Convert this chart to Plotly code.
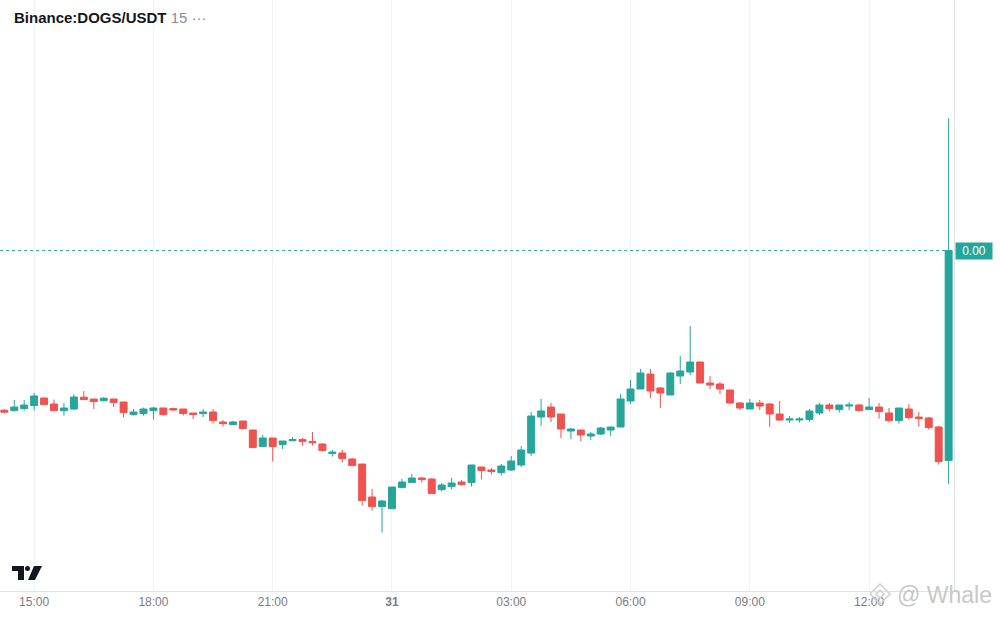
import pandas as pd
import numpy as np
import plotly.graph_objects as go

# 15 minute candles, Binance DOGS/USDT, prices in micro-USDT (1e-6)
start_time = "2024-12-30 14:15"
opens = [399.9, 399.7, 400.7, 402.2, 406.0, 403.0, 399.7, 400.5, 406.4, 405.5,
         404.7, 405.5, 404.0, 397.7, 398.2, 399.7, 401.0, 400.7, 400.5, 398.5,
         398.2, 399.0, 394.0, 392.7, 394.5, 390.0, 381.7, 386.0, 382.7, 384.7,
         385.2, 384.2, 383.0, 378.2, 378.5, 375.5, 373.0, 356.5, 351.7, 350.7,
         361.2, 363.7, 366.0, 365.5, 360.2, 361.7, 364.0, 363.7, 371.5, 370.0,
         368.7, 370.0, 372.5, 378.5, 396.5, 401.5, 398.0, 389.5, 390.0, 387.0,
         388.0, 390.0, 391.5, 404.5, 410.5, 418.0, 411.0, 407.5, 417.0, 419.0,
         424.0, 413.5, 413.0, 410.0, 403.5, 400.5, 403.5, 403.0, 398.0, 395.0,
         395.0, 395.2, 398.5, 402.5, 400.2, 402.0, 402.5, 400.2, 401.5, 398.5,
         394.7, 400.5, 396.5, 396.0, 391.5, 374.7]
highs = [400.5, 405.0, 405.0, 408.5, 406.0, 405.2, 403.5, 407.9, 409.5, 405.5,
         406.4, 405.5, 404.0, 400.5, 401.2, 401.5, 401.0, 401.2, 400.5, 398.5,
         400.5, 400.5, 395.0, 394.5, 394.5, 390.0, 387.5, 386.0, 384.5, 386.5,
         386.0, 389.0, 383.5, 380.0, 380.0, 376.0, 373.0, 360.5, 355.0, 361.5,
         365.5, 368.0, 366.5, 366.0, 363.5, 366.0, 365.0, 372.5, 371.5, 371.0,
         373.0, 377.0, 382.0, 399.0, 405.5, 403.5, 398.0, 391.0, 390.0, 389.0,
         391.5, 391.5, 408.0, 415.0, 420.5, 420.5, 411.5, 419.0, 427.0, 442.0,
         424.0, 417.0, 414.0, 410.0, 404.0, 405.5, 405.0, 403.5, 404.5, 397.0,
         396.5, 400.5, 403.5, 403.5, 402.5, 404.0, 403.0, 406.0, 403.5, 401.0,
         401.0, 403.0, 399.0, 396.5, 392.0, 545.9]
lows = [398.2, 399.2, 399.7, 399.7, 402.7, 399.7, 397.2, 400.0, 405.2, 400.5,
        404.2, 401.5, 396.2, 397.2, 397.2, 395.2, 397.2, 399.7, 397.2, 395.5,
        396.5, 393.2, 391.7, 392.7, 390.2, 381.2, 381.7, 374.2, 380.5, 384.2,
        382.2, 382.2, 379.2, 376.7, 373.7, 372.2, 352.2, 349.7, 338.7, 350.7,
        361.2, 363.7, 363.7, 358.2, 359.2, 360.2, 362.2, 361.7, 365.2, 367.7,
        367.2, 369.5, 371.5, 377.0, 392.0, 394.0, 386.0, 385.5, 384.5, 385.0,
        387.5, 387.0, 391.5, 403.0, 410.5, 406.0, 401.0, 407.5, 413.0, 417.5,
        413.5, 410.5, 408.0, 403.0, 400.0, 400.5, 400.0, 391.5, 394.5, 393.5,
        393.7, 394.2, 397.5, 399.2, 398.7, 400.0, 399.2, 400.2, 395.7, 393.7,
        393.2, 395.2, 391.7, 390.2, 372.7, 362.9]
closes = [398.9, 401.5, 402.5, 407.0, 402.7, 399.7, 401.0, 406.5, 405.2, 404.2,
          405.9, 403.7, 398.7, 399.0, 400.5, 401.0, 397.7, 400.0, 398.2, 397.7,
          399.0, 394.7, 393.2, 394.0, 390.7, 381.2, 386.0, 381.7, 384.5, 385.2,
          384.2, 383.7, 379.7, 379.0, 375.7, 372.2, 354.7, 351.7, 354.5, 361.5,
          364.0, 366.0, 365.2, 358.2, 362.5, 363.5, 362.7, 372.5, 369.7, 369.2,
          372.0, 374.5, 380.0, 397.0, 399.5, 396.5, 390.5, 390.5, 387.5, 388.0,
          391.0, 391.5, 405.5, 410.5, 418.5, 409.5, 408.5, 418.5, 419.5, 424.0,
          413.5, 412.5, 410.5, 403.5, 401.0, 403.5, 402.0, 398.0, 395.0, 395.5,
          395.5, 399.5, 402.5, 400.7, 402.5, 402.5, 399.7, 401.5, 399.2, 394.7,
          401.0, 396.2, 395.7, 391.2, 374.2, 479.7]

tick_times = ["2024-12-30 15:00", "2024-12-30 18:00", "2024-12-30 21:00", "2024-12-31 00:00",
              "2024-12-31 03:00", "2024-12-31 06:00", "2024-12-31 09:00", "2024-12-31 12:00"]
tick_labels = ["15:00", "18:00", "21:00", "<b>31</b>", "03:00", "06:00", "09:00", "12:00"]
last_label = "0.00"

UP = "#26a69a"
DOWN = "#ef5350"
scale = 1e-6

times = pd.date_range(start_time, periods=len(opens), freq="15min")

fig = go.Figure(go.Candlestick(
    x=times,
    open=np.array(opens) * scale, high=np.array(highs) * scale,
    low=np.array(lows) * scale, close=np.array(closes) * scale,
    increasing=dict(line=dict(color=UP, width=1), fillcolor=UP),
    decreasing=dict(line=dict(color=DOWN, width=1), fillcolor=DOWN),
    whiskerwidth=0,
))

# plot area is 954 x 591 px; helpers for decorations
PW, PH = 954.0, 591.0
def px(x):
    return x / PW
def py(y):
    return (PH - y) / PH

last = closes[-1] * scale

shapes = [
    dict(type="line", xref="paper", yref="y", x0=0, x1=1, y0=last, y1=last,
         line=dict(color=UP, width=1, dash="dot")),
    # tradingview logo
    dict(type="path", xref="paper", yref="paper", fillcolor="#131722", line=dict(width=0),
         path=f"M {px(12)} {py(566)} L {px(24)} {py(566)} L {px(24)} {py(580)} L {px(18)} {py(580)} "
              f"L {px(18)} {py(571)} L {px(12)} {py(571)} Z"),
    dict(type="circle", xref="paper", yref="paper", fillcolor="#131722", line=dict(width=0),
         x0=px(25), x1=px(30), y0=py(571), y1=py(566)),
    dict(type="path", xref="paper", yref="paper", fillcolor="#131722", line=dict(width=0),
         path=f"M {px(34)} {py(566)} L {px(42)} {py(566)} L {px(35)} {py(580)} L {px(28)} {py(580)} Z"),
    # watermark icon
    dict(type="path", xref="paper", yref="paper", line=dict(color="#cfcfcf", width=1.5),
         path=f"M {px(880)} {py(584)} L {px(890)} {py(594)} L {px(880)} {py(604)} L {px(870)} {py(594)} Z"),
    dict(type="path", xref="paper", yref="paper", line=dict(color="#cfcfcf", width=1.5),
         path=f"M {px(880)} {py(590)} L {px(884)} {py(594)} L {px(880)} {py(598)} L {px(876)} {py(594)} Z"),
]

annotations = [
    dict(xref="paper", yref="paper", x=px(12), y=py(18), xanchor="left", yanchor="middle",
         showarrow=False, align="left",
         text="<b>Binance:DOGS/USDT</b> <span style='color:#8a8d96'>15 ···</span>",
         font=dict(family="Liberation Sans, Arial", size=15, color="#131722")),
    dict(xref="paper", yref="y", x=1, y=last, xanchor="left", yanchor="middle", xshift=1,
         showarrow=False, text=last_label, bgcolor=UP, width=34, height=14, borderpad=1,
         font=dict(family="Liberation Sans, Arial", size=12, color="white")),
    dict(xref="paper", yref="paper", x=px(895), y=py(595), xanchor="left", yanchor="middle",
         showarrow=False, text="@ Whale",
         font=dict(family="Liberation Sans, Arial", size=23, color="#c8c8c8")),
]

fig.update_layout(
    width=1000, height=620,
    margin=dict(l=0, r=46, t=0, b=29),
    paper_bgcolor="white", plot_bgcolor="white",
    showlegend=False,
    boxgap=0.3, boxgroupgap=0,
    shapes=shapes, annotations=annotations,
    font=dict(family="Liberation Sans, Arial", size=12, color="#787b86"),
    xaxis=dict(
        type="date",
        range=["2024-12-30 14:08:30", "2024-12-31 14:08:06"],
        tickvals=tick_times, ticktext=tick_labels,
        showgrid=True, gridcolor="#f0f3fa", gridwidth=1,
        showline=True, linecolor="#e0e3eb", linewidth=1,
        ticks="", ticklen=0,
        tickfont=dict(size=12, color="#787b86"),
        rangeslider=dict(visible=False),
        zeroline=False,
    ),
    yaxis=dict(
        range=[309.5 * scale, 605 * scale],
        side="right",
        showgrid=False, zeroline=False,
        showticklabels=False, ticks="",
        showline=True, linecolor="#e0e3eb", linewidth=1,
    ),
)

fig.write_html("out.html", config={"displayModeBar": False},
               post_script="document.body.style.margin='0px';")
